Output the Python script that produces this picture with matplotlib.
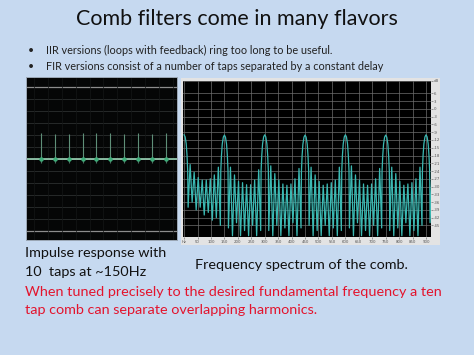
import matplotlib
matplotlib.use("Agg")
import matplotlib.pyplot as plt
from matplotlib.patches import Rectangle
import numpy as np

W, H = 474, 355
BG = '#c6d9f0'
FONT = 'Lato'

# impulse response: 10 taps ~150 Hz apart
tap_pos = [1, 2, 3, 4, 5, 6, 7, 8, 9, 10]
tap_height = [2.15, 2.1, 2.1, 2.2, 2.15, 2.2, 2.1, 2.15, 2.1, 2.2]
tap_under = [-0.35, -0.3, -0.35, -0.3, -0.35, -0.3, -0.35, -0.3, -0.35, -0.3]

# frequency spectrum of the comb (dB)
peak_hz = [0, 150, 300, 450, 600, 750, 900]
peak_db = [-10.0, -10.1, -10.0, -10.1, -10.0, -10.1, -10.0]
lobe_off_hz = [4, 8, 11, 13.5]
lobe_drop_db = [0.8, 3.5, 8.0, 14.0]
null_step_hz = 15
null_db = [
    [-38, -36, -39, -38, -41, -40, -43, -42, -45],
    [-46, -49, -44, -49, -47, -49, -45, -49, -47],
    [-47, -49, -45, -49, -46, -49, -44, -49, -46],
    [-45, -49, -47, -49, -45, -49, -46, -49, -47],
    [-46, -49, -44, -49, -47, -49, -45, -49, -46],
    [-47, -49, -46, -49, -44, -49, -47, -49, -45],
]
sidelobe_db = [
    [-21.5, -24.5, -26.5, -27.5, -27.5, -27.0, -25.5, -22.5],
    [-22.5, -25.5, -28.0, -28.5, -29.3, -29.3, -27.5, -23.5],
    [-22.0, -25.0, -27.5, -29.0, -29.5, -29.0, -27.0, -23.0],
    [-22.5, -25.5, -28.0, -29.5, -29.0, -28.5, -27.5, -22.5],
    [-22.0, -25.5, -27.5, -29.0, -29.5, -29.0, -27.0, -23.0],
    [-22.5, -25.0, -28.0, -29.5, -29.0, -28.5, -27.0, -22.5],
]
tail_hz = [915, 922]
tail_db = [-44, -24]

spec_xticks = [0, 50, 100, 150, 200, 250, 300, 350, 400, 450, 500, 550,
               600, 650, 700, 750, 800, 850, 900]
spec_xlabels = ['Hz'] + [str(v) for v in spec_xticks[1:]]
spec_yticks = [10.8, 6, 3, 0, -3, -6, -9, -12, -15, -18, -21, -24, -27,
               -30, -33, -36, -39, -42, -45]
spec_ylabels = ['dB'] + [str(v) for v in spec_yticks[1:]]


def px_axes(fig, x0, y0, x1, y1):
    return fig.add_axes([x0 / W, 1 - y1 / H, (x1 - x0) / W, (y1 - y0) / H])


def px_rect(fig, x0, y0, x1, y1, **kw):
    fig.patches.append(Rectangle((x0 / W, 1 - y1 / H), (x1 - x0) / W,
                                 (y1 - y0) / H, transform=fig.transFigure,
                                 zorder=-5, **kw))


def spectrum_points():
    f, v = [], []
    for i, p in enumerate(peak_hz):
        if i > 0:
            for off, d in reversed(list(zip(lobe_off_hz, lobe_drop_db))):
                f.append(p - off)
                v.append(peak_db[i] - d)
        f.append(p)
        v.append(peak_db[i])
        for off, d in zip(lobe_off_hz, lobe_drop_db):
            f.append(p + off)
            v.append(peak_db[i] - d)
        if i < len(null_db):
            for k in range(9):
                f.append(p + null_step_hz * (k + 1))
                v.append(null_db[i][k])
                if k < 8:
                    f.append(p + null_step_hz * (k + 1) + null_step_hz / 2)
                    v.append(sidelobe_db[i][k])
    f += tail_hz
    v += tail_db
    return np.array(f), np.array(v)


fig = plt.figure(figsize=(W / 100, H / 100), dpi=100, facecolor=BG)

# title and bullets
fig.text(237 / W, 1 - 19 / H, 'Comb filters come in many flavors', ha='center',
         va='center', fontsize=15.5, family=FONT, color='#111111')
bullets = ['IIR versions (loops with feedback) ring too long to be useful.',
           'FIR versions consist of a number of taps separated by a constant delay']
for i, b in enumerate(bullets):
    yy = 1 - (50 + 17 * i) / H
    fig.text(31 / W, yy, '\u2022', ha='center', va='center', fontsize=7.5,
             family=FONT, color='#222222')
    fig.text(46 / W, yy, b, ha='left', va='center', fontsize=7.8,
             family=FONT, color='#222222')

# impulse response panel
px_rect(fig, 26, 77, 178, 241, facecolor='#9aa6b4', edgecolor='none')
ax1 = px_axes(fig, 27, 78, 177, 240)
ax1.set_facecolor('#050606')
for g in range(-6, 7):
    bright = abs(g) == 6
    ax1.axhline(g, color='#8c8c8c' if bright else '#2c2f2f',
                lw=0.9 if bright else 0.6, zorder=1)
for g in np.arange(0.5, 11, 1.0):
    ax1.axvline(g, color='#141616', lw=0.5, zorder=1)
ax1.vlines(tap_pos, 0, tap_height, color='#5f8f78', lw=0.8, zorder=2)
ax1.vlines(tap_pos, tap_under, 0, color='#4a7060', lw=0.8, zorder=2)
ax1.axhline(0, color='#a9e6c6', lw=1.1, zorder=3)
ax1.plot(tap_pos, [0] * len(tap_pos), ls='none', marker='o', ms=2.2,
         color='#3fae7a', zorder=4)
ax1.set_xlim(0, 10.8)
ax1.set_ylim(-6.75, 6.78)
ax1.set_xticks([])
ax1.set_yticks([])
for s in ax1.spines.values():
    s.set_visible(False)

# spectrum panel
px_rect(fig, 181, 78, 440, 245, facecolor='#e3e3e3', edgecolor='none')
ax2 = px_axes(fig, 183, 81, 431, 237)
ax2.set_facecolor('black')
freq, db = spectrum_points()
ax2.plot(freq, db, color='#3bb9b3', lw=0.9, zorder=3)
ax2.set_xlim(-4, 918.5)
ax2.set_ylim(-49.5, 10.8)
ax2.set_xticks(spec_xticks)
ax2.set_xticklabels(spec_xlabels)
ax2.set_yticks(spec_yticks)
ax2.set_yticklabels(spec_ylabels)
ax2.yaxis.tick_right()
ax2.tick_params(labelsize=2.8, length=1.2, width=0.4, pad=0.8,
                colors='#555555')
ax2.grid(True, color='#6e6e6e', lw=0.5)
ax2.set_axisbelow(True)
for s in ax2.spines.values():
    s.set_visible(False)

# captions
CAP = 10.4
fig.text(25 / W, 1 - 253 / H, 'Impulse response with', ha='left', va='center',
         fontsize=CAP, family=FONT, color='#111111')
fig.text(25 / W, 1 - 272 / H, '10  taps at ~150Hz', ha='left', va='center',
         fontsize=CAP, family=FONT, color='#111111')
fig.text(195 / W, 1 - 265 / H, 'Frequency spectrum of the comb.', ha='left',
         va='center', fontsize=CAP, family=FONT, color='#111111')
fig.text(25 / W, 1 - 292 / H,
         'When tuned precisely to the desired fundamental frequency a ten',
         ha='left', va='center', fontsize=CAP, family=FONT, color='#e3142d')
fig.text(25 / W, 1 - 310 / H, 'tap comb can separate overlapping harmonics.',
         ha='left', va='center', fontsize=CAP, family=FONT, color='#e3142d')

fig.savefig('out.png', dpi=100, facecolor=BG)
